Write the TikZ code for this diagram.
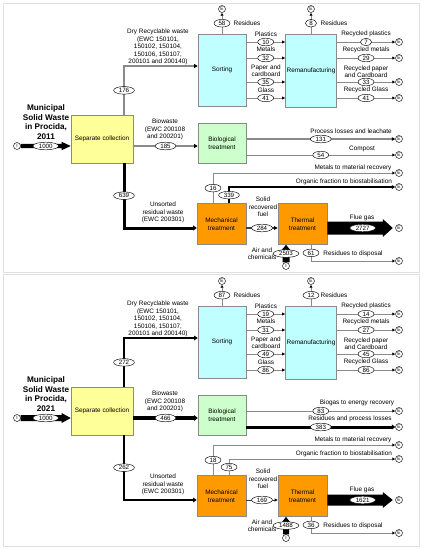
\documentclass[tikz,border=0pt]{standalone}
\usepackage{fontspec}
\setmainfont{Liberation Sans}
\usetikzlibrary{shapes.geometric,arrows.meta,calc}

\definecolor{cyanbox}{HTML}{BFFFFF}
\definecolor{yelbox}{HTML}{FFFF99}
\definecolor{grnbox}{HTML}{CCFFCC}
\definecolor{orgbox}{HTML}{FF9900}
\definecolor{flowgray}{HTML}{8A8A8A}
\definecolor{darkflow}{HTML}{404040}
\definecolor{framegray}{HTML}{E0E0E0}

\tikzset{
 lbl/.style={font=\fontsize{6.4}{7.4}\selectfont, align=center, inner sep=0pt},
 titlestyle/.style={font=\bfseries\fontsize{8.2}{9.4}\selectfont, align=center, inner sep=0pt},
 boxtxt/.style={font=\fontsize{6.4}{7.8}\selectfont, align=center, inner sep=0pt, draw=flowgray, line width=0.6pt},
 val/.style={ellipse, draw=black, fill=white, line width=0.45pt, inner xsep=2.2pt, inner ysep=0.5pt, font=\fontsize{6.2}{6.2}\selectfont},
 ecirc/.style={circle, draw=black, fill=white, line width=0.45pt, inner sep=0pt, minimum size=7pt, font=\fontsize{4.8}{4.8}\selectfont},
 tip/.style={-{Triangle[length=3pt,width=2.8pt,color=black]}},
 tipbig/.style={-{Triangle[length=3.5pt,width=#1,color=black]}},
 gthin/.style={draw=flowgray, line width=0.7pt, tip},
 panelframe/.style={draw=framegray, line width=1pt},
}

\newcommand\DrawPanel[1]{%
 % boxes
 \node[boxtxt, fill=yelbox, minimum width=62pt, minimum height=48pt] (#1sc) at (102,139) {Separate collection};
 \node[boxtxt, fill=cyanbox, minimum width=48pt, minimum height=72pt] (#1sort) at (222,70) {Sorting};
 \node[boxtxt, fill=cyanbox, minimum width=51pt, minimum height=73pt] (#1rem) at (311,70.5) {Remanufacturing};
 \node[boxtxt, fill=grnbox, minimum width=48pt, minimum height=40pt] (#1bio) at (222,143) {Biological\\treatment};
 \node[boxtxt, fill=orgbox, minimum width=49pt, minimum height=41pt] (#1mech) at (221.5,224) {Mechanical\\treatment};
 \node[boxtxt, fill=orgbox, minimum width=49pt, minimum height=41pt] (#1therm) at (302.5,224) {Thermal\\treatment};
 % title
 \node[titlestyle] (#1title) at (46,122) {Municipal\\Solid Waste\\in Procida,\\\pvYear};
 % sources and sinks
 \node[ecirc] (#1Iin) at (17,146) {I};
 \node[ecirc] (#1Iair) at (286,266) {I};
 \node[ecirc] (#1Es) at (222,9) {E};
 \node[ecirc] (#1Er) at (311,9) {E};
 \node[ecirc] (#1Ea) at (399,42) {E};
 \node[ecirc] (#1Eb) at (399,58) {E};
 \node[ecirc] (#1Ec) at (399,82) {E};
 \node[ecirc] (#1Ed) at (399,98) {E};
 \node[ecirc] (#1Eba) at (399,139) {E};
 \node[ecirc] (#1Ebb) at (399,155) {E};
 \node[ecirc] (#1Emet) at (399,173) {E};
 \node[ecirc] (#1Eorg) at (399,187) {E};
 \node[ecirc] (#1Eflue) at (399,228) {E};
 \node[ecirc] (#1Edisp) at (399,261) {E};
 % input band
 \coordinate (#1it) at (#1sc.west |- #1Iin);
 \fill ([yshift=\pvIw]#1Iin.east) -- ([xshift=-9pt,yshift=\pvIw]#1it) -- ([xshift=-9pt,yshift=\pvIw+2pt]#1it) -- (#1it)
   -- ([xshift=-9pt,yshift=-\pvIw-2pt]#1it) -- ([xshift=-9pt,yshift=-\pvIw]#1it) -- ([yshift=-\pvIw]#1Iin.east) -- cycle;
 \node[val] (#1vin) at ($(#1Iin.east)!0.5!(#1it)$) {\pvIn};
 % dry recyclable
 \coordinate (#1dryb) at (124,66);
 \draw[dryln] (#1sc.north -| #1dryb) -- node[val]{\pvDry} (#1dryb) -- (#1sort.west |- #1dryb);
 % biowaste
 \coordinate (#1biob) at (165,146);
 \draw[bioln] (#1sc.east |- #1biob) -- node[val]{\pvBio} (#1bio.west |- #1biob);
 % unsorted
 \coordinate (#1unsb) at (124,228);
 \draw[unsln] (#1sc.south -| #1unsb) -- node[val]{\pvUns} (#1unsb) -- (#1mech.west |- #1unsb);
 % residues
 \draw[gthin] (#1sort.north) -- node[val]{\pvRs} (#1Es.south);
 \draw[gthin] (#1rem.north) -- node[val]{\pvRr} (#1Er.south);
 % sorting -> remanufacturing
 \draw[gthin] (#1sort.east |- #1Ea) -- node[val]{\pvSa} (#1rem.west |- #1Ea);
 \draw[gthin] (#1sort.east |- #1Eb) -- node[val]{\pvSb} (#1rem.west |- #1Eb);
 \draw[gthin] (#1sort.east |- #1Ec) -- node[val]{\pvSc} (#1rem.west |- #1Ec);
 \draw[glassln] (#1sort.east |- #1Ed) -- node[val]{\pvSd} (#1rem.west |- #1Ed);
 % remanufacturing -> E
 \draw[gthin] (#1rem.east |- #1Ea) -- node[val]{\pvRa} (#1Ea.west);
 \draw[gthin] (#1rem.east |- #1Eb) -- node[val]{\pvRb} (#1Eb.west);
 \draw[gthin] (#1rem.east |- #1Ec) -- node[val]{\pvRc} (#1Ec.west);
 \draw[glassln] (#1rem.east |- #1Ed) -- node[val]{\pvRd} (#1Ed.west);
 % biological outputs
 \draw[bioaln] (#1bio.east |- #1Eba) -- node[val]{\pvBa} (#1Eba.west);
 \draw[biobln] (#1bio.east |- #1Ebb) -- node[val]{\pvBb} (#1Ebb.west);
 % mechanical outputs
 \coordinate (#1metb) at (213,173);
 \draw[gthin] (#1mech.north -| #1metb) -- node[val]{\pvMet} (#1metb) -- (#1Emet.west);
 \coordinate (#1orgb) at (229,187);
 \draw[orgln] (#1mech.north -| #1orgb) -- node[val]{\pvOrg} (#1orgb) -- (#1Eorg.west);
 \coordinate (#1srfb) at (262,228);
 \draw[srfln] (#1mech.east |- #1srfb) -- node[val]{\pvSrf} (#1therm.west |- #1srfb);
 % disposal
 \coordinate (#1dispb) at (311,261);
 \draw[gthin] (#1therm.south -| #1dispb) -- node[val]{\pvDisp} (#1dispb) -- (#1Edisp.west);
 % flue gas band
 \coordinate (#1fs) at (#1therm.east |- #1Eflue);
 \coordinate (#1ft) at ([xshift=-2.5pt]#1Eflue.west);
 \fill ([yshift=\pvFw]#1fs) -- ([xshift=-10pt,yshift=\pvFw]#1ft) -- ([xshift=-10pt,yshift=\pvFw+2.5pt]#1ft) -- (#1ft)
   -- ([xshift=-10pt,yshift=-\pvFw-2.5pt]#1ft) -- ([xshift=-10pt,yshift=-\pvFw]#1ft) -- ([yshift=-\pvFw]#1fs) -- cycle;
 \node[val] (#1vflue) at ($(#1fs)!0.54!(#1ft)$) {\pvFlue};
 % air and chemicals band
 \coordinate (#1at) at (#1therm.south -| #1Iair);
 \fill ([xshift=-\pvAw]#1Iair.north) -- ([xshift=-\pvAw,yshift=-6pt]#1at) -- ([xshift=-\pvAw-1.5pt,yshift=-6pt]#1at) -- (#1at)
   -- ([xshift=\pvAw+1.5pt,yshift=-6pt]#1at) -- ([xshift=\pvAw,yshift=-6pt]#1at) -- ([xshift=\pvAw]#1Iair.north) -- cycle;
 \node[val] (#1vair) at ($(#1Iair.north)!0.5!(#1at)$) {\pvAir};
 % labels
 \node[lbl] (#1ldry) at (158,47) {Dry Recyclable waste\\(EWC 150101,\\150102, 150104,\\150106, 150107,\\200101 and 200140)};
 \node[lbl] (#1lbio) at (165,129.5) {Biowaste\\(EWC 200108\\and 200201)};
 \node[lbl] (#1luns) at (163,212.5) {Unsorted\\residual waste\\(EWC 200301)};
 \node[lbl] (#1lres1) at (247,23) {Residues};
 \node[lbl] (#1lres2) at (334,23) {Residues};
 \node[lbl] (#1lpl) at (266,34) {Plastics};
 \node[lbl] (#1lme) at (266,49.5) {Metals};
 \node[lbl] (#1lpa) at (266,70.5) {Paper and\\cardboard};
 \node[lbl] (#1lgl) at (266,90) {Glass};
 \node[lbl] (#1lrpl) at (366,34) {Recycled plastics};
 \node[lbl] (#1lrme) at (366,50) {Recycled metals};
 \node[lbl] (#1lrpa) at (366,71.5) {Recycled paper\\and Cardboard};
 \node[lbl] (#1lrgl) at (366,89.5) {Recycled Glass};
 \node[lbl] (#1lba) at (\pvBaX,131) {\pvBaT};
 \node[lbl] (#1lbb) at (\pvBbX,\pvBbY) {\pvBbT};
 \node[lbl] (#1lmet) at (353,168) {Metals to material recovery};
 \node[lbl] (#1lorg) at (344,182) {Organic fraction to biostabilisation};
 \node[lbl] (#1lsrf) at (263,207) {Solid\\recovered\\fuel};
 \node[lbl] (#1lflue) at (362,217.5) {Flue gas};
 \node[lbl] (#1lair) at (262,253.5) {Air and\\chemicals};
 \node[lbl] (#1ldisp) at (353,254) {Residues to disposal};
}

\begin{document}
\begin{tikzpicture}[x=1pt,y=-1pt]
\path[use as bounding box] (0,0) rectangle (425,550);
\fill[white] (0,0) rectangle (425,550);
\draw[panelframe] (3,3) rectangle (419,272);
\draw[panelframe] (3,274) rectangle (419,546);

% ---------- panel 2011 ----------
\begin{scope}
\def\pvYear{2011}\def\pvIn{1000}\def\pvDry{176}\def\pvBio{185}\def\pvUns{639}
\def\pvRs{58}\def\pvRr{8}
\def\pvSa{10}\def\pvSb{32}\def\pvSc{35}\def\pvSd{41}
\def\pvRa{7}\def\pvRb{29}\def\pvRc{33}\def\pvRd{41}
\def\pvBa{131}\def\pvBb{54}
\def\pvBaT{Process losses and leachate}\def\pvBaX{351}
\def\pvBbT{Compost}\def\pvBbX{362}\def\pvBbY{149}
\def\pvMet{16}\def\pvOrg{339}\def\pvSrf{284}\def\pvFlue{2727}\def\pvAir{2503}\def\pvDisp{61}
\def\pvIw{2.2pt}\def\pvFw{6.5pt}\def\pvAw{3.5pt}
\tikzset{
 dryln/.style={draw=flowgray, line width=1.8pt, tipbig=4pt},
 bioln/.style={draw=flowgray, line width=1.8pt, tipbig=4pt},
 unsln/.style={draw=black, line width=3pt, tipbig=5pt},
 bioaln/.style={draw=flowgray, line width=1.4pt, tipbig=3.5pt},
 biobln/.style={gthin},
 orgln/.style={draw=black, line width=1.6pt, tipbig=3.8pt},
 srfln/.style={draw=darkflow, line width=1.4pt, tipbig=3.5pt},
 glassln/.style={gthin},
}
\DrawPanel{a}
\end{scope}

% ---------- panel 2021 ----------
\begin{scope}[shift={(0,272)}]
\def\pvYear{2021}\def\pvIn{1000}\def\pvDry{272}\def\pvBio{466}\def\pvUns{262}
\def\pvRs{87}\def\pvRr{12}
\def\pvSa{19}\def\pvSb{31}\def\pvSc{49}\def\pvSd{86}
\def\pvRa{14}\def\pvRb{27}\def\pvRc{45}\def\pvRd{86}
\def\pvBa{83}\def\pvBb{383}
\def\pvBaT{Biogas to energy recovery}\def\pvBaX{357}
\def\pvBbT{Residues and process losses}\def\pvBbX{350}\def\pvBbY{147}
\def\pvMet{18}\def\pvOrg{75}\def\pvSrf{169}\def\pvFlue{1621}\def\pvAir{1488}\def\pvDisp{36}
\def\pvIw{3pt}\def\pvFw{5.5pt}\def\pvAw{3pt}
\tikzset{
 dryln/.style={draw=black, line width=2.4pt, tipbig=4.5pt},
 bioln/.style={draw=black, line width=3.6pt, tipbig=5.5pt},
 unsln/.style={draw=black, line width=2.3pt, tipbig=4.5pt},
 bioaln/.style={gthin},
 biobln/.style={draw=black, line width=3pt, tipbig=5pt},
 orgln/.style={gthin},
 srfln/.style={draw=darkflow, line width=1pt, tip},
 glassln/.style={draw=flowgray, line width=1pt, tip},
}
\DrawPanel{b}
\end{scope}
\end{tikzpicture}
\end{document}
